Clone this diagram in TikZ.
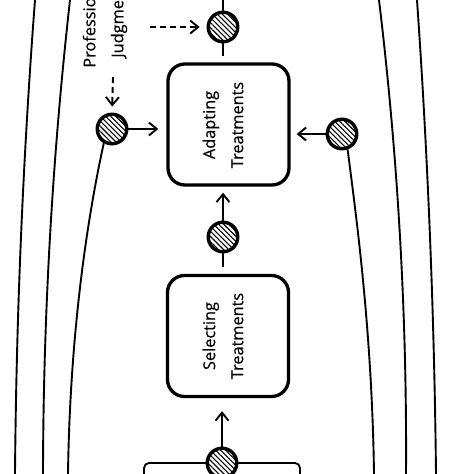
\documentclass[tikz,border=0pt]{standalone}
\usepackage{fontspec}
\setmainfont{Open Sans}[FakeBold=0.5]
\usetikzlibrary{arrows.meta,patterns.meta}
\begin{document}
\begin{tikzpicture}[x=1pt,y=-1pt,
  boxshape/.style={draw, line width=3.3pt, rounded corners=17pt, minimum width=121pt, minimum height=121pt, inner sep=0pt},
  boxtext/.style={rotate=90, align=center, inner sep=0pt, font=\fontsize{16.3}{28}\selectfont},
  hatch/.style={circle, draw, line width=3.4pt, minimum size=29.5pt, inner sep=0pt,
    preaction={fill=white}, pattern={Lines[angle=-45,distance=3.6pt,line width=1.1pt]}},
  conn/.style={line width=1.9pt},
  arr/.style={conn, -{Straight Barb[length=8pt,width=13pt]}},
  dasharr/.style={arr, dash pattern=on 6pt off 4pt},
  arc/.style={line width=1.9pt}]
\useasboundingbox (0,0) rectangle (474,474);
\clip (0,0) rectangle (474,474);

% long outer curves
\draw[arc] (35,0) .. controls (23,158) and (16.3,316) .. (15,474);
\draw[arc] (70,0) .. controls (52.3,158) and (43.3,316) .. (43,474);
\draw[arc] (379,0) .. controls (398,158) and (407,316) .. (406,474);
\draw[arc] (417,0) .. controls (428,158) and (434.3,316) .. (436,474);

% boxes
\node[boxshape] (adapt) at (228.5,124.5) {};
\node[boxtext] (adaptT) at (223,125) {Adapting\\Treatments};
\node[boxshape] (select) at (228,336) {};
\node[boxtext] (selectT) at (223,336) {Selecting\\Treatments};
\node[draw, line width=1.8pt, rounded corners=5pt, minimum width=156pt, minimum height=100pt, inner sep=0pt] (bottombox) at (222,513) {};

% label
\node[boxtext] (pj) at (105,21) {Professional\\Judgment};

% circles
\node[hatch] (T) at (223,27) {};
\node[hatch] (L) at (112,129) {};
\node[hatch] (R) at (342,134) {};
\node[hatch] (M) at (223,237) {};
\node[hatch] (B) at (222,463) {};

\coordinate (topend) at (223,-5);
\coordinate (tbelow) at (223,56);
\coordinate (mbelow) at (223,267);
\coordinate (dstart) at (150,27);
\coordinate (pjend) at (113,77);
\coordinate (lend) at (68,474);
\coordinate (rend) at (374,474);

% connectors
\draw[conn] (topend) -- (T.north);
\draw[conn] (T.south) -- (tbelow);
\draw[dasharr, shorten >=8pt] (dstart) -- (T.west);
\draw[dasharr, shorten >=6pt] (pjend) -- (L.north);
\draw[arr, shorten >=8pt] (L.east) -- (L -| adapt.west);
\draw[arr, shorten >=6pt] (R.west) -- (R -| adapt.east);
\draw[arr, shorten >=6pt] (M.north) -- (M |- adapt.south);
\draw[conn] (M.south) -- (mbelow);
\draw[arr, shorten >=13pt] (B.north) -- (B |- select.south);
\draw[arc] (L.240) .. controls (88,215) and (70,330) .. (lend);
\draw[arc] (R.290) .. controls (356,215) and (372,330) .. (rend);
\end{tikzpicture}
\end{document}
